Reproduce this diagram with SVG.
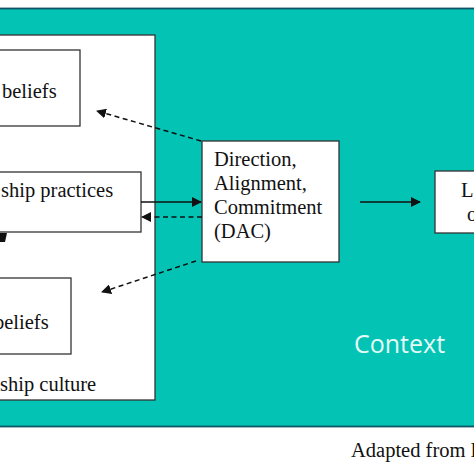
<svg xmlns="http://www.w3.org/2000/svg" width="474" height="474" viewBox="0 0 474 474">
<style>
.box{fill:#fff;stroke:#333;stroke-width:1.3}
.t{font-family:"Liberation Serif","Times New Roman",serif;font-size:20.5px;fill:#111}
.ln{stroke:#111;stroke-width:1.5;fill:none}
.dash{stroke-dasharray:5,3.5}
</style>
<defs>
<marker id="ah" viewBox="0 0 10 10" refX="9" refY="5" markerWidth="10" markerHeight="10" markerUnits="userSpaceOnUse" orient="auto">
<path d="M0,0 L10,5 L0,10 Z" fill="#111"/>
</marker>
</defs>
<rect x="0" y="0" width="474" height="474" fill="#fff"/>
<rect x="-2" y="8.5" width="478" height="418" fill="#03c3b4" stroke="#0d5667" stroke-width="1.8"/>
<g id="culture">
<rect class="box" x="-5" y="35" width="160" height="365"/>
<text class="t" x="0" y="391">ship culture</text>
</g>
<g id="beliefs-top">
<rect class="box" x="-5" y="50" width="85" height="76"/>
<text class="t" x="2" y="98">beliefs</text>
</g>
<g id="practices">
<rect class="box" x="-5" y="172" width="146" height="60"/>
<text class="t" x="1" y="197">ship practices</text>
<polygon points="0,233 7,233 5,242 0,242" fill="#111"/>
</g>
<g id="beliefs-bottom">
<rect class="box" x="-5" y="278" width="76" height="76"/>
<text class="t" x="-6" y="329">beliefs</text>
</g>
<g id="dac">
<rect class="box" x="202" y="141" width="137" height="121"/>
<text class="t" x="214" y="166" font-size="21">Direction,</text>
<text class="t" x="214" y="190" font-size="21">Alignment,</text>
<text class="t" x="214" y="214" font-size="21">Commitment</text>
<text class="t" x="214" y="238" font-size="21">(DAC)</text>
</g>
<g id="outcomes">
<rect class="box" x="435" y="171" width="50" height="62"/>
<text class="t" x="461" y="197">Le</text>
<text class="t" x="467" y="221">o</text>
</g>
<g id="connectors">
<line class="ln dash" x1="201" y1="141" x2="97" y2="111" marker-end="url(#ah)"/>
<line class="ln" x1="141" y1="202" x2="201" y2="202" marker-end="url(#ah)"/>
<line class="ln dash" x1="202" y1="217" x2="142" y2="217" marker-end="url(#ah)"/>
<line class="ln dash" x1="196" y1="261" x2="102" y2="292" marker-end="url(#ah)"/>
<line class="ln" x1="360" y1="202" x2="420" y2="202" marker-end="url(#ah)"/>
</g>
<text x="354" y="353" font-family="'Open Sans',sans-serif" font-size="25" fill="#e6fbf7">Context</text>
<text class="t" x="351" y="457" font-size="20.5">Adapted from D</text>
</svg>
